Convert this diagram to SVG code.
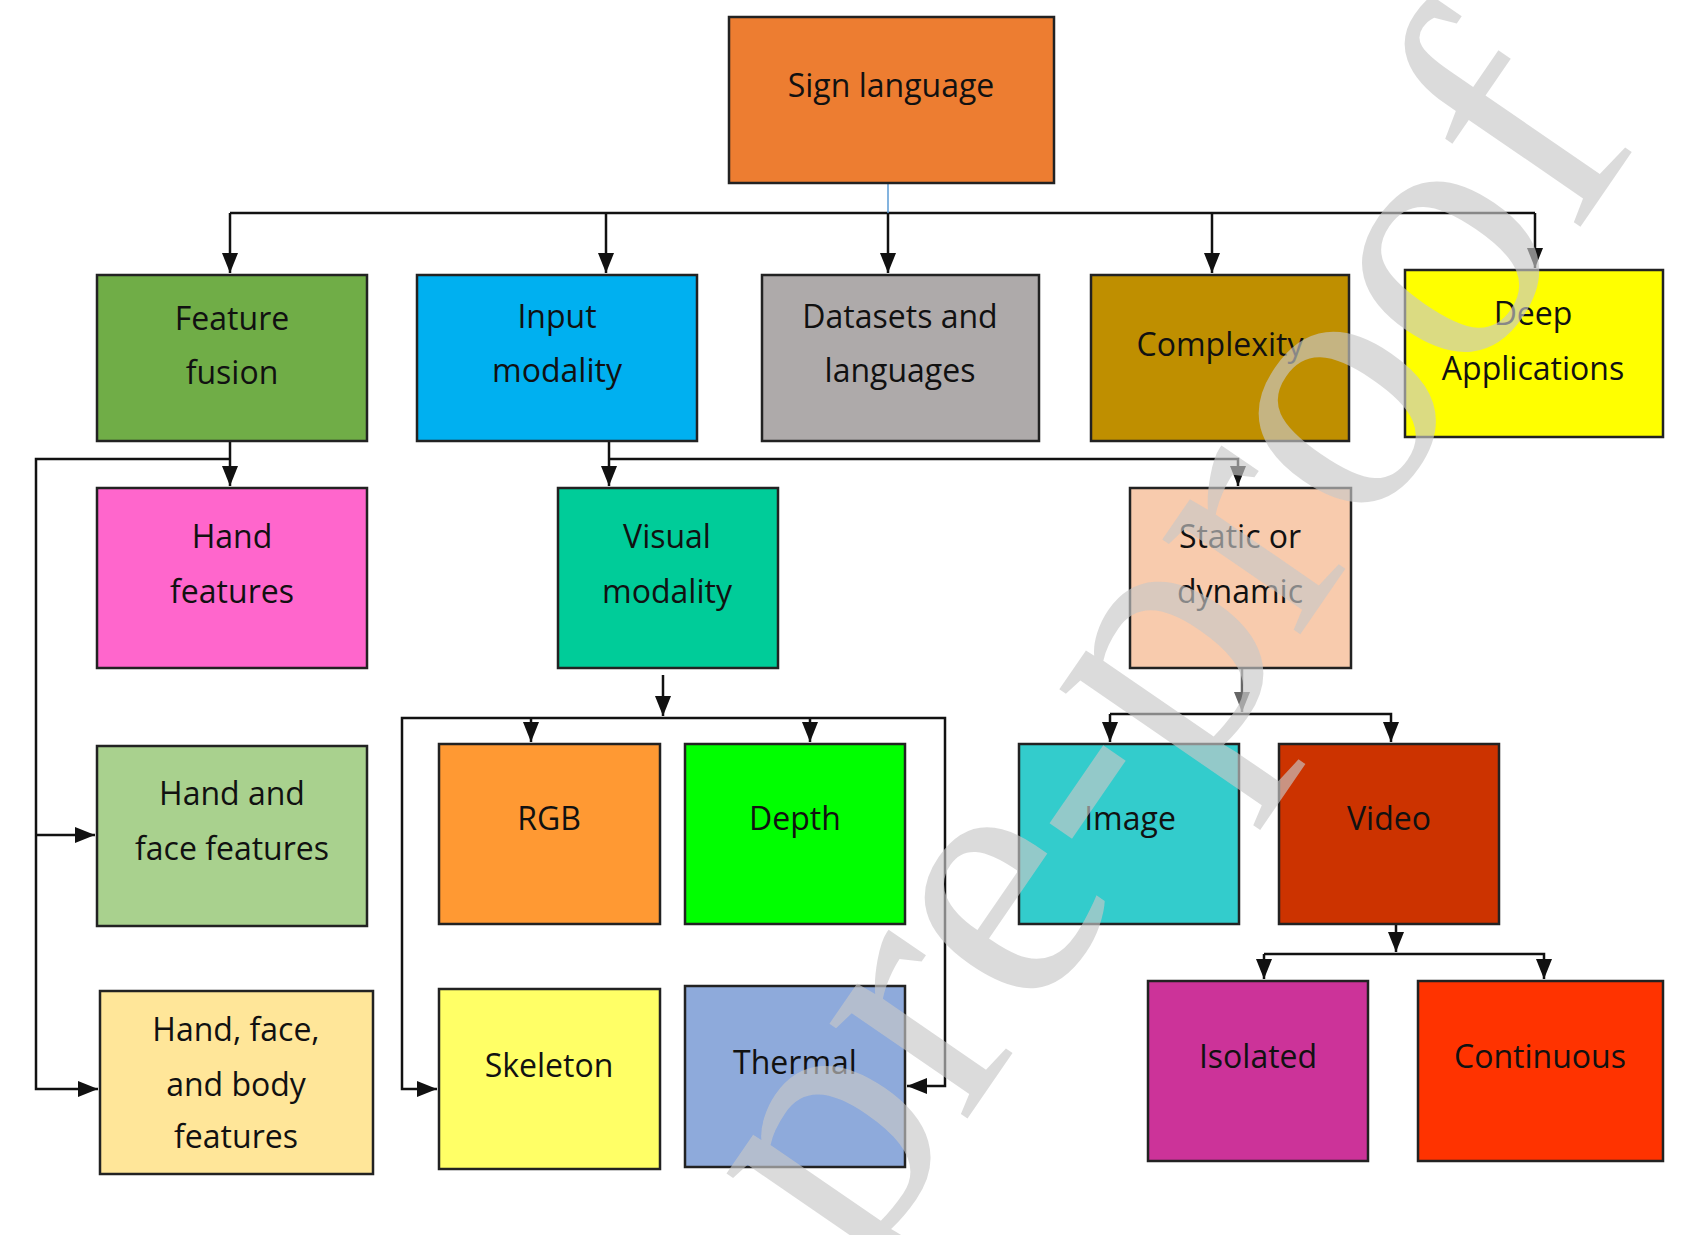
<svg xmlns="http://www.w3.org/2000/svg" width="1690" height="1235" viewBox="0 0 1690 1235">
<style>
rect{stroke:#222;stroke-width:2.5}
text{font-family:"Open Sans","Liberation Sans",sans-serif;font-size:32px;fill:#111;text-anchor:middle}
.c{fill:none;stroke:#111;stroke-width:2.5}
.g{fill:none;stroke:#666;stroke-width:2.5}
</style>
<defs>
<marker id="a" viewBox="0 0 20 20" refX="20" refY="10" markerWidth="20" markerHeight="20" markerUnits="userSpaceOnUse" orient="auto"><path d="M0,2L20,10L0,18z" fill="#111"/></marker>
<marker id="b" viewBox="0 0 20 20" refX="20" refY="10" markerWidth="20" markerHeight="20" markerUnits="userSpaceOnUse" orient="auto"><path d="M0,2L20,10L0,18z" fill="#666"/></marker>
</defs>
<g id="connectors">
<path class="c" d="M230,213H1535"/>
<path d="M888,183V213" stroke="#5b9bd5" stroke-width="1.5"/>
<path class="c" d="M230,213V273" marker-end="url(#a)"/>
<path class="c" d="M606,213V273" marker-end="url(#a)"/>
<path class="c" d="M888,213V273" marker-end="url(#a)"/>
<path class="c" d="M1212,213V273" marker-end="url(#a)"/>
<path class="c" d="M1535,213V268" marker-end="url(#a)"/>
<path class="c" d="M230,441V486" marker-end="url(#a)"/>
<path class="c" d="M230,459H36V1089H98" marker-end="url(#a)"/>
<path class="c" d="M36,835H95" marker-end="url(#a)"/>
<path class="c" d="M609,441V486" marker-end="url(#a)"/>
<path class="c" d="M609,459H1238V486" marker-end="url(#a)"/>
<path class="c" d="M663,675V716" marker-end="url(#a)"/>
<path class="c" d="M531,718H402V1089H437" marker-end="url(#a)"/>
<path class="c" d="M531,718V742" marker-end="url(#a)"/>
<path class="c" d="M531,718H945V1086H907" marker-end="url(#a)"/>
<path class="c" d="M810,718V742" marker-end="url(#a)"/>
<path class="g" d="M1242,668V712" marker-end="url(#b)"/>
<path class="c" d="M1110,714H1391V742" marker-end="url(#a)"/>
<path class="c" d="M1110,714V742" marker-end="url(#a)"/>
<path class="c" d="M1396,924V952" marker-end="url(#a)"/>
<path class="c" d="M1264,954H1544V979" marker-end="url(#a)"/>
<path class="c" d="M1264,954V979" marker-end="url(#a)"/>
</g>
<g id="sign"><rect x="729" y="17" width="325" height="166" fill="#ed7d31"/><text x="891" y="97">Sign language</text></g>
<g id="feature"><rect x="97" y="275" width="270" height="166" fill="#70ad47"/><text x="232" y="330">Feature</text><text x="232" y="384">fusion</text></g>
<g id="input"><rect x="417" y="275" width="280" height="166" fill="#00b0f0"/><text x="557" y="328">Input</text><text x="557" y="382">modality</text></g>
<g id="datasets"><rect x="762" y="275" width="277" height="166" fill="#aeaaaa"/><text x="900" y="328">Datasets and</text><text x="900" y="382">languages</text></g>
<g id="complexity"><rect x="1091" y="275" width="258" height="166" fill="#bf8f00"/><text x="1220" y="356">Complexity</text></g>
<g id="deep"><rect x="1405" y="270" width="258" height="167" fill="#ffff00"/><text x="1533" y="325">Deep</text><text x="1533" y="380">Applications</text></g>
<g id="hand"><rect x="97" y="488" width="270" height="180" fill="#ff66cc"/><text x="232" y="548">Hand</text><text x="232" y="603">features</text></g>
<g id="visual"><rect x="558" y="488" width="220" height="180" fill="#00cc99"/><text x="667" y="548">Visual</text><text x="667" y="603">modality</text></g>
<g id="static"><rect x="1130" y="488" width="221" height="180" fill="#f8cbad"/><text x="1240" y="548">Static or</text><text x="1240" y="603">dynamic</text></g>
<g id="handface"><rect x="97" y="746" width="270" height="180" fill="#a9d18e"/><text x="232" y="805">Hand and</text><text x="232" y="860">face features</text></g>
<g id="rgb"><rect x="439" y="744" width="221" height="180" fill="#ff9933"/><text x="549" y="830">RGB</text></g>
<g id="depth"><rect x="685" y="744" width="220" height="180" fill="#00ff00"/><text x="795" y="830">Depth</text></g>
<g id="image"><rect x="1019" y="744" width="220" height="180" fill="#33cccc"/><text x="1130" y="830">Image</text></g>
<g id="video"><rect x="1279" y="744" width="220" height="180" fill="#cc3300"/><text x="1389" y="830">Video</text></g>
<g id="hfb"><rect x="100" y="991" width="273" height="183" fill="#ffe699"/><text x="236" y="1041">Hand, face,</text><text x="236" y="1096">and body</text><text x="236" y="1148">features</text></g>
<g id="skeleton"><rect x="439" y="989" width="221" height="180" fill="#ffff66"/><text x="549" y="1077">Skeleton</text></g>
<g id="thermal"><rect x="685" y="986" width="220" height="181" fill="#8eaadb"/><text x="795" y="1074">Thermal</text></g>
<g id="isolated"><rect x="1148" y="981" width="220" height="180" fill="#cc3399"/><text x="1258" y="1068">Isolated</text></g>
<g id="continuous"><rect x="1418" y="981" width="245" height="180" fill="#ff3300"/><text x="1540" y="1068">Continuous</text></g>
<text x="0" y="0" transform="translate(860,1275) rotate(-55.5)" style="font-family:'Liberation Serif',serif;font-size:365px;fill:#c8c8c8;fill-opacity:0.65;text-anchor:start">pre-proof</text>
</svg>
